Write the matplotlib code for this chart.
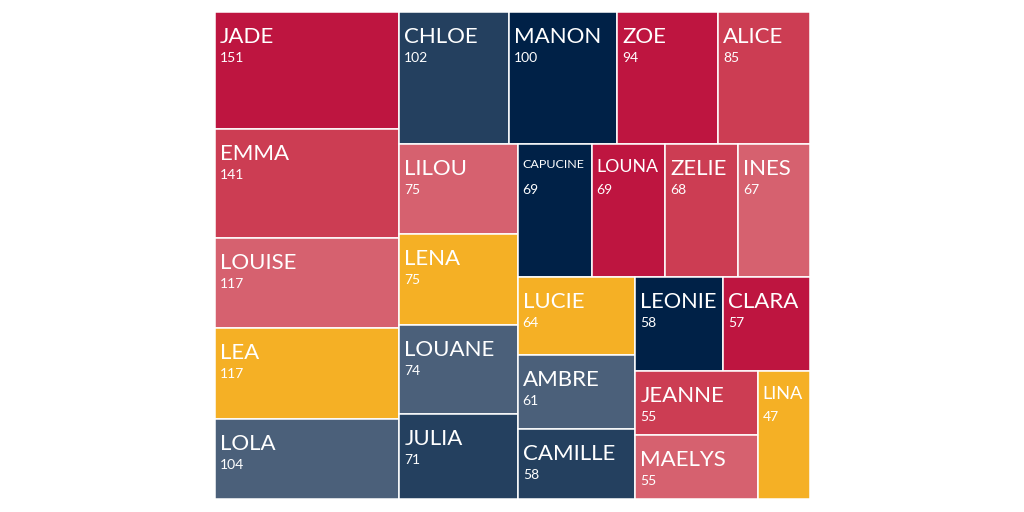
import matplotlib
matplotlib.use("Agg")
import matplotlib.pyplot as plt
from matplotlib.patches import Rectangle

names = ["JADE", "EMMA", "LOUISE", "LEA", "LOLA", "CHLOE", "MANON", "ZOE", "ALICE",
         "LILOU", "LENA", "LOUANE", "JULIA", "CAPUCINE", "LOUNA", "ZELIE", "INES",
         "LUCIE", "AMBRE", "CAMILLE", "LEONIE", "CLARA", "JEANNE", "MAELYS", "LINA"]
counts = [151, 141, 117, 117, 104, 102, 100, 94, 85,
          75, 75, 74, 71, 69, 69, 68, 67,
          64, 61, 58, 58, 57, 55, 55, 47]
palette = ["#BE1540", "#CC3D53", "#D6616F", "#F5B025", "#4B607A", "#24405F", "#002147"]

W, H = 595.0, 487.0
RATIO = 1.6


# squarified treemap (d3.treemapSquarify style)
def squarify(values, x0, y0, x1, y1, ratio=RATIO):
    rects = []
    value = float(sum(values))
    i0 = 0
    n = len(values)
    while i0 < n:
        dx, dy = x1 - x0, y1 - y0
        i1 = i0
        s = values[i1]
        i1 += 1
        mn = mx = s
        alpha = max(dy / dx, dx / dy) / (value * ratio)
        beta = s * s * alpha
        min_ratio = max(mx / beta, beta / mn)
        while i1 < n:
            v = values[i1]
            s2 = s + v
            mn2, mx2 = min(mn, v), max(mx, v)
            beta = s2 * s2 * alpha
            new_ratio = max(mx2 / beta, beta / mn2)
            if new_ratio > min_ratio:
                break
            s, mn, mx, min_ratio = s2, mn2, mx2, new_ratio
            i1 += 1
        row = values[i0:i1]
        if dx < dy:
            ny = y0 + dy * s / value
            xx = x0
            for v in row:
                w = dx * v / s
                rects.append((xx, y0, w, ny - y0))
                xx += w
            y0 = ny
        else:
            nx = x0 + dx * s / value
            yy = y0
            for v in row:
                h = dy * v / s
                rects.append((x0, yy, nx - x0, h))
                yy += h
            x0 = nx
        value -= s
        i0 = i1
    return rects


rects = squarify(counts, 0, 0, W, H)

fig = plt.figure(figsize=(10.24, 5.12), dpi=100)
ax = fig.add_axes([215 / 1024, 1 - 499 / 512, W / 1024, H / 512])
ax.set_xlim(0, W)
ax.set_ylim(H, 0)
ax.axis("off")

fig.canvas.draw()
renderer = fig.canvas.get_renderer()
font = "Lato"

for i, (name, c, (x, y, w, h)) in enumerate(zip(names, counts, rects)):
    ax.add_patch(Rectangle((x, y), w, h, facecolor=palette[i % len(palette)],
                           edgecolor="white", linewidth=1.1))
    fs = 16
    t = ax.text(x + 5, y + 15, name, color="white", fontsize=fs, family=font,
                va="top", ha="left")
    tw = t.get_window_extent(renderer).width
    if tw > w - 12:
        fs = fs * (w - 12) / tw
        t.set_fontsize(fs)
    ax.text(x + 5, y + 40, str(c), color="white", fontsize=10, family=font,
            va="top", ha="left")

fig.savefig("out.png", dpi=100)
